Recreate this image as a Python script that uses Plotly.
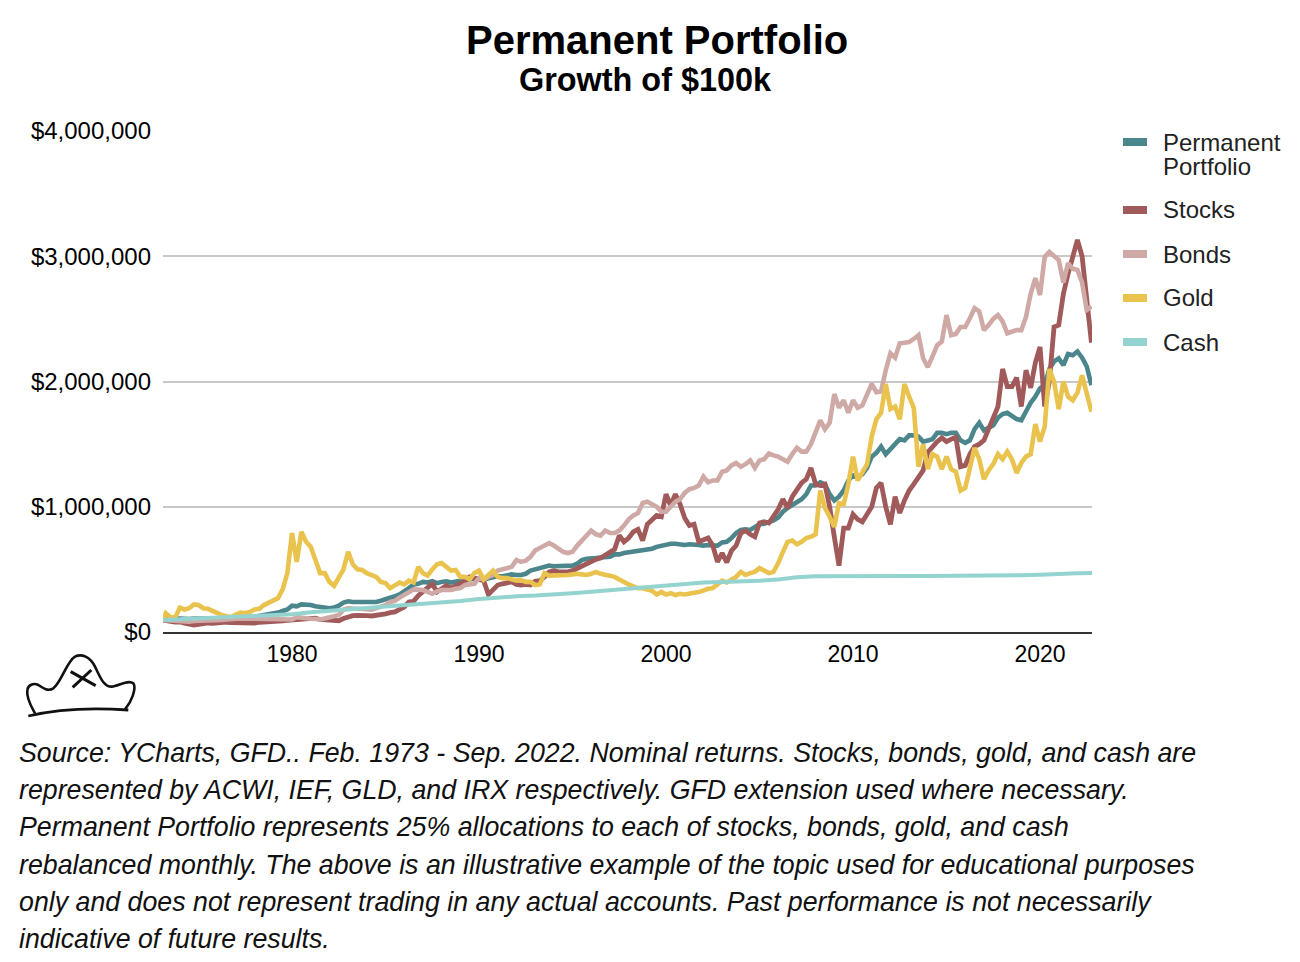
import plotly.graph_objects as go

start_year = 1973
permanent_k = [
    96,100,105,108, 108,104,104,108, 110,108,108,108, 108,108,108,106, 108,110,112,116,
    122,128,135,142, 150,155,168,180, 210,205,220,220, 215,205,200,195, 190,195,210,235,
    245,240,240,240, 240,235,240,250, 260,275,285,300, 320,350,380,385, 400,395,405,390,
    400,405,395,405, 410,415,420,420, 430,420,430,435, 445,445,450,460, 455,455,465,490,
    500,510,525,530, 525,525,530,530, 530,545,575,585, 585,590,595,600, 600,620,620,630,
    635,640,650,650, 660,665,680,690, 700,705,705,700, 695,700,700,695, 690,695,690,690,
    715,720,750,790, 815,820,815,840, 860,865,880,890, 915,960,990,1010, 1030,1060,1100,1170,
    1170,1195,1180,1100, 1050,1080,1130,1210, 1250,1240,1260,1310, 1400,1430,1480,1420, 1460,1500,1540,1530,
    1570,1570,1560,1520, 1530,1540,1590,1590, 1580,1590,1590,1530, 1510,1530,1620,1670, 1610,1630,1650,1710,
    1740,1750,1720,1700, 1690,1760,1830,1880, 1945,1970,2100,2160, 2185,2130,2220,2210, 2240,2190,2120,1970,
]
stocks_k = [
    96,90,85,80, 80,70,60,55, 60,68,72,70, 75,78,78,76, 74,72,72,72,
    72,78,82,80, 85,86,90,92, 96,95,105,108, 108,110,100,98, 92,88,90,108,
    120,130,132,135, 130,128,132,135, 145,155,160,180, 200,240,245,290, 320,345,385,320,
    345,370,350,370, 385,405,440,430, 420,410,300,340, 375,385,390,400, 380,375,380,375,
    405,410,440,480, 490,480,480,480, 490,510,525,545, 560,580,590,610, 640,660,770,720,
    750,800,820,730, 860,900,930,920, 1100,1010,1100,1020, 910,850,860,720, 740,750,690,560,
    630,555,650,690, 790,810,780,760, 870,880,870,930, 980,1060,990,1080, 1130,1190,1220,1310,
    1180,1170,1180,1000, 760,530,830,830, 940,900,880,950, 1000,1150,1190,1000, 860,1080,950,1050,
    1130,1180,1240,1290, 1435,1480,1520,1550, 1520,1540,1555,1320, 1330,1420,1480,1500, 1530,1620,1700,1800,
    2100,1960,1960,2030, 1800,2090,1950,2150, 2275,1800,2000,2435, 2450,2700,2860,2980, 3130,3000,2650,2310,
]
bonds_k = [
    96,94,92,94, 92,88,82,88, 88,90,90,92, 94,96,100,106, 106,108,108,108,
    108,106,108,105, 108,108,108,105, 100,118,112,108, 106,104,100,108, 112,125,135,180,
    190,190,188,188, 182,178,190,205, 215,240,248,275, 300,320,340,338, 335,320,305,325,
    335,335,335,345, 350,375,380,385, 430,420,440,455, 490,500,505,520, 575,560,570,600,
    650,670,700,710, 690,660,640,630, 640,690,730,770, 810,780,770,810, 790,790,810,850,
    900,930,950,1030, 1040,1020,1000,960, 960,1000,1040,1060, 1110,1140,1150,1170, 1240,1195,1210,1210,
    1280,1290,1330,1350, 1320,1340,1370,1310, 1370,1380,1425,1410, 1400,1380,1360,1420, 1470,1440,1440,1500,
    1600,1690,1620,1670, 1900,1790,1850,1750, 1850,1790,1810,1900, 1980,1915,1920,2090, 2225,2190,2305,2310,
    2315,2340,2370,2185, 2115,2200,2290,2320, 2530,2370,2380,2435, 2435,2505,2585,2560, 2410,2450,2500,2530,
    2480,2385,2400,2410, 2410,2515,2700,2825, 2690,2995,3035,3000, 2970,2790,2945,2900, 2890,2790,2570,2600,
]
gold_k = [
    95,150,120,115, 195,180,190,220, 215,190,185,165, 155,135,125,120, 140,155,150,160,
    180,185,215,235, 250,270,340,470, 790,560,800,720, 680,575,470,470, 400,370,440,500,
    640,540,500,495, 470,450,440,400, 390,350,370,395, 380,410,395,520, 470,450,500,540,
    550,520,490,495, 440,440,420,470, 490,420,450,490, 440,430,430,420, 410,415,400,400,
    375,380,470,450, 450,450,455,455, 460,465,460,455, 465,480,465,460, 450,440,420,390,
    380,365,350,350, 340,330,300,320, 300,310,295,305, 300,305,310,320, 330,345,350,375,
    410,395,420,440, 480,455,470,480, 510,490,470,480, 550,640,720,730, 700,720,750,760,
    780,1130,990,920, 840,1030,1020,1180, 1400,1210,1270,1340, 1560,1700,1750,1980, 1780,1800,1700,1980,
    1880,1790,1320,1500, 1300,1420,1400,1300, 1400,1300,1280,1130, 1150,1300,1470,1380, 1220,1290,1340,1420,
    1380,1440,1380,1270, 1350,1400,1420,1660, 1520,1640,2100,2000, 1780,2000,1880,1850, 1910,2050,1900,1760,
]
cash_years = list(range(1973, 2023)) + [2022.78]
cash_k = [
    96,102,108,113,118,124,132,142,158,172,182,192,203,213,222,233,248,263,277,285,
    291,297,310,322,335,347,358,368,385,395,400,403,409,420,438,445,447,447,447,448,
    448,448,448,449,449,450,453,458,466,470,472,
]

series_names = ["Permanent Portfolio", "Stocks", "Bonds", "Gold", "Cash"]
series_colors = ["#4a868c", "#a15a5a", "#cfa9a6", "#e9c34d", "#94d4d0"]
series_widths = [4.6, 4.8, 4.6, 4.6, 4]
legend_rows = [["Permanent", "Portfolio"], ["Stocks"], ["Bonds"], ["Gold"], ["Cash"]]
y_ticks = [0, 1000000, 2000000, 3000000, 4000000]
y_tick_labels = ["$0", "$1,000,000", "$2,000,000", "$3,000,000", "$4,000,000"]
x_ticks = [1980, 1990, 2000, 2010, 2020]
title_text = "Permanent Portfolio"
subtitle_text = "Growth of $100k"
footnote_lines = [
    "Source: YCharts, GFD.. Feb. 1973 - Sep. 2022. Nominal returns. Stocks, bonds, gold, and cash are",
    "represented by ACWI, IEF, GLD, and IRX respectively. GFD extension used where necessary.",
    "Permanent Portfolio represents 25% allocations to each of stocks, bonds, gold, and cash",
    "rebalanced monthly. The above is an illustrative example of the topic used for educational purposes",
    "only and does not represent trading in any actual accounts. Past performance is not necessarily",
    "indicative of future results.",
]

W, H = 1300, 962
FONT = "Liberation Sans, Arial, sans-serif"
quarters = [max(start_year + i / 4, 1973.1) for i in range(len(stocks_k))]
all_series = [
    (quarters, permanent_k), (quarters, stocks_k), (quarters, bonds_k),
    (quarters, gold_k), (cash_years, cash_k),
]

fig = go.Figure()
for (xs, vals), name, color, lw in zip(all_series, series_names, series_colors, series_widths):
    fig.add_trace(go.Scatter(
        x=xs, y=[v * 1000 for v in vals], mode="lines", name=name, showlegend=False, hoverinfo="skip",
        line=dict(color=color, width=lw, shape="linear"),
    ))


def px(x, y):
    return x / W, 1 - y / H


def zoom_xy(a, b):
    return "{:.5f},{:.5f}".format(*px(a / 3, 620 + b / 3))


def hat_path(start, curve_pts):
    parts = ["M" + zoom_xy(*start)]
    for i in range(0, len(curve_pts), 3):
        parts.append("C" + " ".join(zoom_xy(*p) for p in curve_pts[i:i + 3]))
    return " ".join(parts)


hat_outline = hat_path((105, 280), [
    (95, 262), (78, 235), (82, 210), (84, 195), (100, 188), (115, 195),
    (130, 205), (145, 215), (160, 205), (185, 185), (200, 125), (225, 110),
    (245, 100), (270, 110), (285, 140), (300, 170), (310, 200), (335, 200),
    (355, 198), (385, 178), (400, 190), (410, 205), (395, 245), (375, 268),
])
hat_brim = hat_path((85, 288), [(160, 270), (270, 262), (385, 270)])
bone_a = "M%s L%s" % (zoom_xy(212, 155), zoom_xy(287, 197))
bone_b = "M%s L%s" % (zoom_xy(274, 150), zoom_xy(218, 202))
shapes = [
    dict(type="path", xref="paper", yref="paper", path=p, line=dict(color="#111111", width=w))
    for p, w in [(hat_outline, 2.6), (hat_brim, 2.8), (bone_a, 3), (bone_b, 3)]
]

annotations = [
    dict(text="<b>%s</b>" % title_text, x=657 / W, y=1 - 40 / H, xref="paper", yref="paper",
         showarrow=False, xanchor="center", yanchor="middle", font=dict(size=40, color="#000000", family=FONT)),
    dict(text="<b>%s</b>" % subtitle_text, x=645 / W, y=1 - 80 / H, xref="paper", yref="paper",
         showarrow=False, xanchor="center", yanchor="middle", font=dict(size=32.4, color="#000000", family=FONT)),
]
for i, line in enumerate(footnote_lines):
    annotations.append(dict(
        text="<i>%s</i>" % line, x=17 / W, y=1 - (753 + i * 37.2) / H, xref="paper", yref="paper",
        showarrow=False, xanchor="left", yanchor="middle", align="left",
        font=dict(size=26.75, color="#111111", family=FONT),
    ))

legend_swatch_y = [142, 210, 254, 298, 342]
legend_text_y = [[142, 166], [210], [254], [298], [342]]
for rows, sy, ty, color in zip(legend_rows, legend_swatch_y, legend_text_y, series_colors):
    shapes.append(dict(type="line", xref="paper", yref="paper",
                       x0=1123 / W, x1=1147 / W, y0=1 - sy / H, y1=1 - sy / H,
                       line=dict(color=color, width=8)))
    for label, y in zip(rows, ty):
        annotations.append(dict(
            text=label, x=1161 / W, y=1 - y / H, xref="paper", yref="paper",
            showarrow=False, xanchor="left", yanchor="middle",
            font=dict(size=24, color="#222222", family=FONT),
        ))

fig.update_layout(
    width=W, height=H, autosize=False,
    margin=dict(l=0, r=0, t=0, b=0),
    showlegend=False,
    paper_bgcolor="#ffffff", plot_bgcolor="#ffffff",
    font=dict(family=FONT, size=23, color="#000000"),
    xaxis=dict(
        domain=[163 / W, 1092 / W], range=[1973.1, 2022.78], tickmode="array", tickvals=x_ticks,
        automargin=False, showgrid=False, zeroline=False, showline=True, linecolor="#333333", linewidth=2,
        ticks="", ticklabelstandoff=0, tickfont=dict(size=23, color="#000000"),
    ),
    yaxis=dict(
        domain=[1 - 632 / H, 1 - 131 / H], range=[0, 4000000], tickmode="array", tickvals=y_ticks,
        ticktext=y_tick_labels, automargin=False, showgrid=True, gridcolor="#c8c8c8", gridwidth=1.6,
        zeroline=False, showline=False, ticks="", ticklabelstandoff=11,
        tickfont=dict(size=24, color="#000000"),
    ),
    shapes=shapes,
    annotations=annotations,
)

fig.write_html("out.html", config={"displayModeBar": False},
               post_script="document.body.style.margin='0';")
